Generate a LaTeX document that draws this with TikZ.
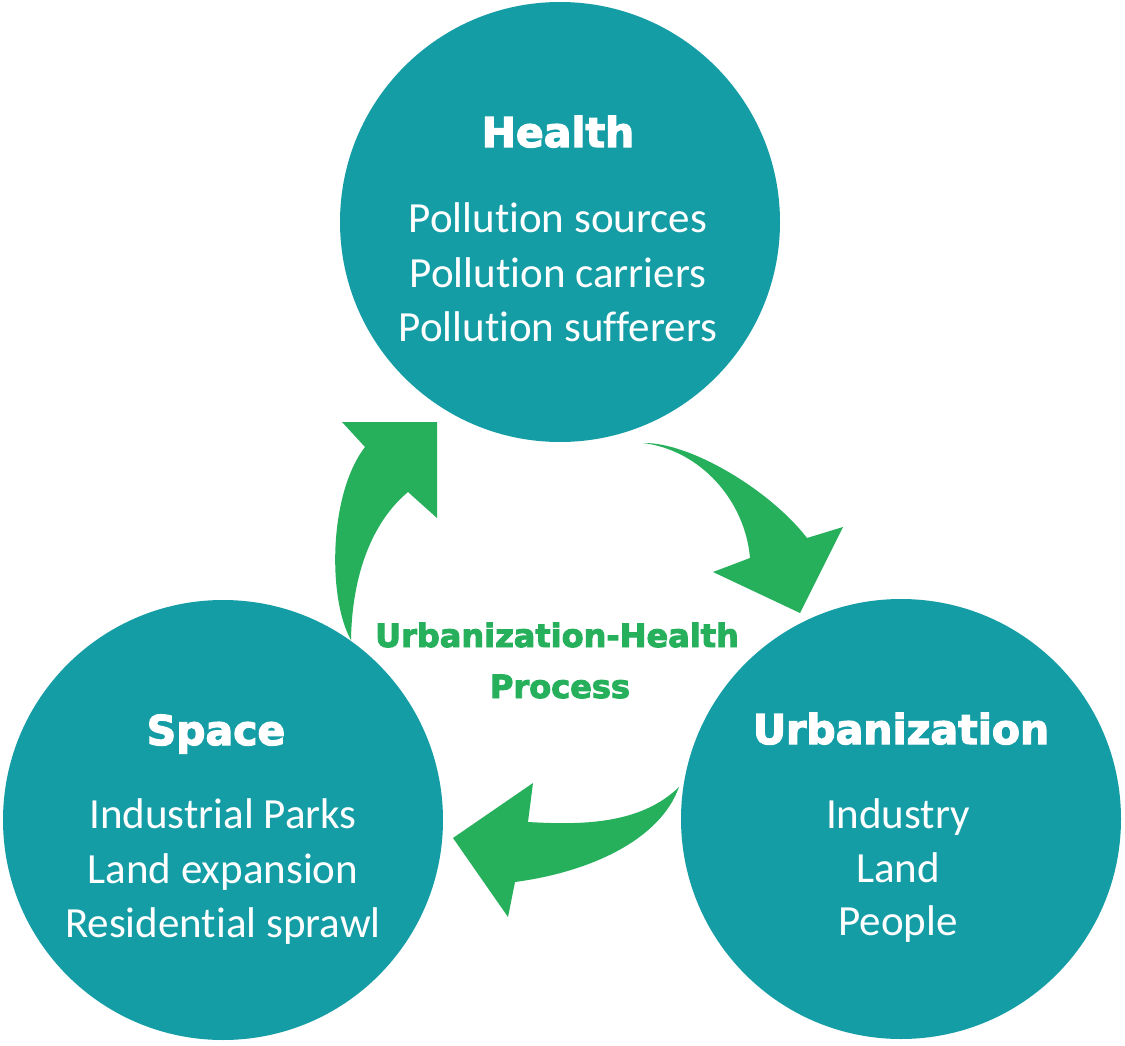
\documentclass[tikz,border=0pt]{standalone}
\usepackage{fontspec}
\setmainfont{Carlito}[Ligatures=NoCommon]
\newfontfamily\titlefont[FakeBold=3]{DejaVu Sans Bold}
\newcommand{\nolig}{\kern0pt }
\definecolor{tealc}{RGB}{21,157,166}
\definecolor{greenc}{RGB}{38,176,92}
\begin{document}
\begin{tikzpicture}[x=1pt,y=-1pt,
  circ/.style={circle,fill=tealc,draw=none,minimum size=440pt,inner sep=0pt},
  ttl/.style={anchor=base,text=white,font=\titlefont\fontsize{41}{49}\selectfont,inner sep=0pt},
  body/.style={anchor=base,text=white,font=\fontsize{43}{54}\selectfont,inner sep=0pt},
  mid/.style={anchor=base,text=greenc,font=\titlefont\fontsize{32}{38}\selectfont,inner sep=0pt},
  blockarrow/.style={fill=greenc,draw=none}]
\useasboundingbox (0,0) rectangle (1125,1046);
\fill[white] (0,0) rectangle (1125,1046);
% circles
\node[circ] (health) at (560,222) {};
\node[circ] (space) at (223,820) {};
\node[circ] (urban) at (901,819) {};
% health texts
\node[ttl] (healthT) at (558,147) {Health};
\node[body] (h1) at (558,232) {Pollut\nolig ion sources};
\node[body] (h2) at (558,287) {Pollut\nolig ion carriers};
\node[body] (h3) at (558,341) {Pollut\nolig ion suf\nolig ferers};
% space texts
\node[ttl] (spaceT) at (216,745) {Space};
\node[body] (s1) at (223,828) {Industrial Parks};
\node[body] (s2) at (223,883) {Land expansion};
\node[body] (s3) at (223,937) {Residential sprawl};
% urbanization texts
\node[ttl] (urbanT) at (901,744) {Urbanization};
\node[body] (u1) at (898,828) {Industry};
\node[body] (u2) at (898,882) {Land};
\node[body] (u3) at (898,935) {People};
% center label
\node[mid] (c1) at (557,647) {Urbanization-Health};
\node[mid] (c2) at (560,698) {Process};
% arrows
\fill[blockarrow] (351,640) .. controls (328,600) and (328,495) .. (365,447)
  -- (342,422) -- (437,422) -- (437,518) -- (408,492)
  .. controls (372,522) and (352,575) .. (351,640) -- cycle;
\fill[blockarrow] (643,443) .. controls (690,442) and (770,490) .. (807,538)
  -- (843,527) -- (800,613) -- (713,572) -- (750,558)
  .. controls (745,500) and (700,450) .. (643,443) -- cycle;
\fill[blockarrow] (679,787) .. controls (640,825) and (580,825) .. (528,822)
  -- (533,783) -- (453,838) -- (508,917) -- (515,882)
  .. controls (590,872) and (660,840) .. (679,787) -- cycle;
\end{tikzpicture}
\end{document}
